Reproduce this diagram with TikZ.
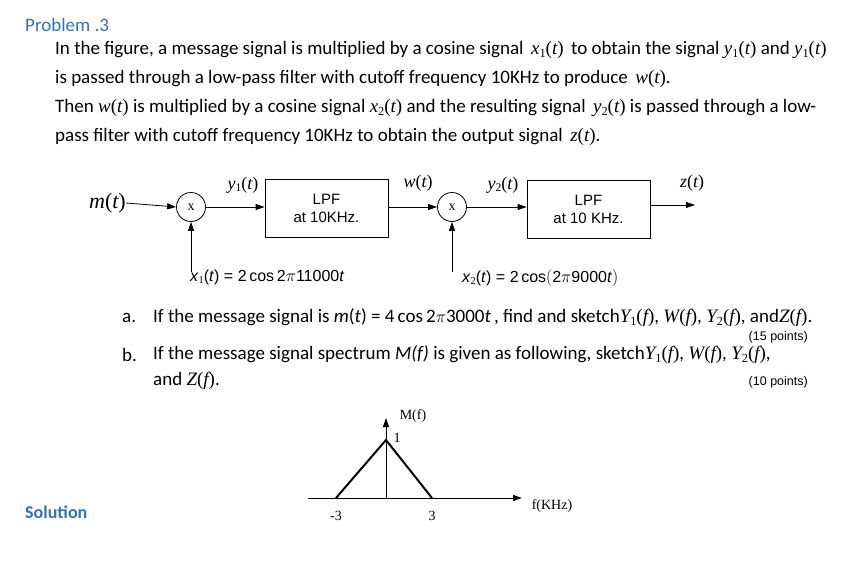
\documentclass[tikz,border=0pt]{standalone}
\usepackage{fontspec}
\setmainfont{Carlito}
\newfontfamily\arialf{Liberation Sans}
\newfontfamily\timesf{Liberation Serif}
\usetikzlibrary{arrows.meta}
\definecolor{hblue}{HTML}{2E74B5}
\newcommand{\mi}[1]{{\timesf\itshape #1}}
\newcommand{\mup}[1]{{\timesf #1}}
\newcommand{\sbs}[1]{\raisebox{-0.3ex}{\timesf\fontsize{0.65em}{1em}\selectfont #1}}
\begin{document}
\begin{tikzpicture}[x=1pt,y=-1pt,
  txt/.style={anchor=west,inner sep=0pt,font=\fontsize{19}{22}\selectfont},
  blk/.style={draw,line width=0.8pt,minimum width=123pt,minimum height=58pt,align=center,font=\arialf\fontsize{15}{18}\selectfont},
  mulnode/.style={draw,shape=circle,line width=0.8pt,minimum size=29pt,inner sep=0pt,font=\timesf\fontsize{14}{14}\selectfont},
  arr/.style={-{Triangle[length=9pt,width=6pt]},line width=0.8pt},
  sig/.style={inner sep=0pt,font=\fontsize{18}{20}\selectfont},
  pts/.style={anchor=east,inner sep=0pt,font=\arialf\fontsize{12.5}{14}\selectfont}]
\useasboundingbox (0,0) rectangle (855,571);
\node[txt,text=hblue] (title) at (25,25) {Problem .3};
\node[txt] (l1) at (55,50) {In the figure, a message signal is multiplied by a cosine signal \,\mi{x}\sbs{1}\mup{(}\mi{t}\mup{)}\, to obtain the signal \mi{y}\sbs{1}\mup{(}\mi{t}\mup{)} and \mi{y}\sbs{1}\mup{(}\mi{t}\mup{)}};
\node[txt] (l2) at (55,79) {is passed through a low-pass filter with cutoff frequency 10KHz to produce \,\mi{w}\mup{(}\mi{t}\mup{)}.};
\node[txt] (l3) at (55,108) {Then \mi{w}\mup{(}\mi{t}\mup{)} is multiplied by a cosine signal \mi{x}\sbs{2}\mup{(}\mi{t}\mup{)} and the resulting signal \,\mi{y}\sbs{2}\mup{(}\mi{t}\mup{)} is passed through a low-};
\node[txt] (l4) at (55,137) {pass filter with cutoff frequency 10KHz to obtain the output signal \,\mi{z}\mup{(}\mi{t}\mup{)}.};
% block diagram
\node[sig,anchor=east,font=\fontsize{22}{24}\selectfont] (m) at (126,203) {\mi{m}\mup{(}\mi{t}\mup{)}};
\node[mulnode] (c1) at (191,207) {x};
\node[blk] (f1) at (326.5,208) {LPF\\at 10KHz.};
\node[mulnode] (c2) at (452,207) {x};
\node[blk] (f2) at (588.5,209) {LPF\\at 10 KHz.};
\coordinate (out) at (695,205);
\coordinate (x1s) at (191,272);
\coordinate (x2s) at (452,272);
\draw[arr] (m.east) -- (c1.west);
\draw[arr] (c1.east) -- (f1.west |- c1.east);
\draw[arr] (f1.east |- c2.west) -- (c2.west);
\draw[arr] (c2.east) -- (f2.west |- c2.east);
\draw[arr] (f2.east |- out) -- (out);
\draw[arr] (x1s) -- (c1.south);
\draw[arr] (x2s) -- (c2.south);
\node[sig] (y1) at (243,185) {\mi{y}\sbs{1}\mup{(}\mi{t}\mup{)}};
\node[sig] (w) at (418,183) {\mi{w}\mup{(}\mi{t}\mup{)}};
\node[sig] (y2) at (503,185) {\mi{y}\sbs{2}\mup{(}\mi{t}\mup{)}};
\node[sig] (z) at (692,183) {\mi{z}\mup{(}\mi{t}\mup{)}};
\node[txt,font=\arialf\fontsize{16}{18}\selectfont] (x1l) at (190,277) {\textit{x}\sbs{1}(\textit{t}) = 2\,cos\,2$\pi$11000\textit{t}};
\node[txt,font=\arialf\fontsize{16}{18}\selectfont] (x2l) at (462,278) {\textit{x}\sbs{2}(\textit{t}) = 2\,cos$\bigl($2$\pi$9000\textit{t}$\bigr)$};
% questions
\node[txt] (a) at (122,318) {a.};
\node[txt] (qa) at (153,318) {If the message signal is \textit{m}(\textit{t}) = 4\,cos\,2$\pi$3000\textit{t}\,, find and sketch\mi{Y}\sbs{1}\mup{(}\mi{f}\mup{)}, \mi{W}\mup{(}\mi{f}\mup{)}, \mi{Y}\sbs{2}\mup{(}\mi{f}\mup{)}, and\mi{Z}\mup{(}\mi{f}\mup{)}.};
\node[pts] (pa) at (808,337) {(15 points)};
\node[txt] (b) at (122,355) {b.};
\node[txt] (qb) at (153,355) {If the message signal spectrum \textit{M(f)} is given as following, sketch\mi{Y}\sbs{1}\mup{(}\mi{f}\mup{)}, \mi{W}\mup{(}\mi{f}\mup{)}, \mi{Y}\sbs{2}\mup{(}\mi{f}\mup{)},};
\node[txt] (qb2) at (153,381) {and \mi{Z}\mup{(}\mi{f}\mup{)}.};
\node[pts] (pb) at (808,382) {(10 points)};
% spectrum plot
\coordinate (hl) at (308,498);
\coordinate (hr) at (522,498);
\coordinate (o) at (386,498);
\coordinate (vt) at (386,418);
\coordinate (tl) at (336,498);
\coordinate (tp) at (386,440);
\coordinate (tr) at (432,498);
\draw[arr,line width=1pt] (hl) -- (hr);
\draw[arr,line width=1pt] (o) -- (vt);
\draw[line width=2pt] (tl) -- (tp) -- (tr);
\node[sig,font=\timesf\fontsize{14}{16}\selectfont] (mf) at (413,416) {M(f)};
\node[sig,font=\timesf\fontsize{14}{16}\selectfont] (one) at (397,438) {1};
\node[sig,font=\timesf\fontsize{14}{16}\selectfont] (m3) at (336,516) {-3};
\node[sig,font=\timesf\fontsize{14}{16}\selectfont] (p3) at (432,516) {3};
\node[sig,font=\timesf\fontsize{14}{16}\selectfont] (fk) at (552,506) {f(KHz)};
\node[txt,text=hblue,font=\bfseries\fontsize{18}{20}\selectfont] (sol) at (25,512) {Solution};
\end{tikzpicture}
\end{document}
